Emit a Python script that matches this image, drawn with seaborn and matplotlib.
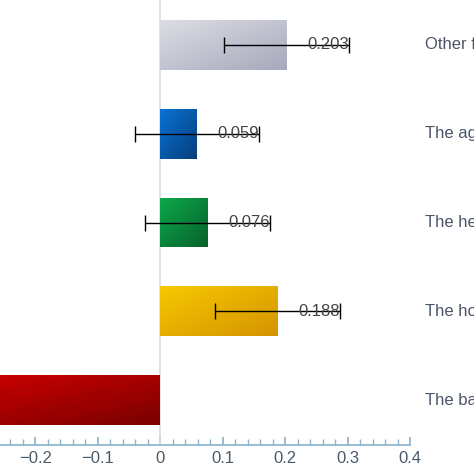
import numpy as np
import pandas as pd
import matplotlib
matplotlib.use("Agg")
import matplotlib.pyplot as plt
import seaborn as sns
from matplotlib.colors import LinearSegmentedColormap

categories = ["Other factors", "The age of the respondent", "The health status of the household",
              "The household income level", "The baseline level of education"]
values = [0.203, 0.059, 0.076, 0.188, -0.36]
errors = [0.10, 0.10, 0.10, 0.10, 0.0]
labels = ["0.203", "0.059", "0.076", "0.188", ""]
grad_colors = [("#dcdde3", "#a7a9bd"), ("#0b72d6", "#053f7a"), ("#0ca84a", "#07622c"),
               ("#f7c800", "#d49400"), ("#d40000", "#7a0000")]

sns.set_theme(style="white")
plt.rcParams["font.family"] = ["Liberation Sans", "DejaVu Sans"]
fig = plt.figure(figsize=(4.74, 4.74), dpi=100)
ax = fig.add_axes([0, 29/474, 410/474, 445/474])
df = pd.DataFrame({"cat": categories, "val": values})
sns.barplot(data=df, x="val", y="cat", orient="h", width=0.56, ax=ax, color="#cccccc", errorbar=None)

for i, p in enumerate(ax.patches):
    x0, y0, w, h = p.get_x(), p.get_y(), p.get_width(), p.get_height()
    cmap = LinearSegmentedColormap.from_list("g", grad_colors[i])
    g = np.linspace(0, 1, 64)
    grad = (g[None, :] + g[:, None]) / 2
    im = ax.imshow(grad, cmap=cmap, extent=[min(x0, x0 + w), max(x0, x0 + w), y0 + h, y0],
                   aspect="auto", zorder=2)
    im.set_clip_path(p)
    p.set_alpha(0)
ax.set_xlim(-0.2564, 0.4)
ax.set_ylim(4.507, -0.507)

for i, (v, e, lab) in enumerate(zip(values, errors, labels)):
    if e > 0:
        ax.errorbar(v, i, xerr=e, color="black", lw=1, capsize=6, capthick=1, zorder=4)
        ax.text(v + e, i, lab, ha="right", va="center", fontsize=12, color="#444444", zorder=5)
    ax.text(0.424, i, categories[i], ha="left", va="center", fontsize=12, color="#4a5568", clip_on=False)

ax.axvline(0, color="#d5dce3", lw=1.2, zorder=1)
for s in ["top", "right", "left"]:
    ax.spines[s].set_visible(False)
ax.spines["bottom"].set_color("#8fb3cc")
ax.set_xticks(np.arange(-0.2, 0.41, 0.1))
ax.set_xticklabels(["\u22120.2", "\u22120.1", "0", "0.1", "0.2", "0.3", "0.4"])
ax.set_xticks(np.arange(-0.24, 0.401, 0.02), minor=True)
ax.tick_params(axis="x", which="both", direction="in", colors="#8fb3cc", labelcolor="#4a5a6a",
               labelsize=12, bottom=True, pad=4)
ax.tick_params(axis="x", which="major", length=6)
ax.tick_params(axis="x", which="minor", length=4)
ax.set_yticks([])
ax.set_xlabel("")
ax.set_ylabel("")
fig.savefig("out.png", dpi=100)
